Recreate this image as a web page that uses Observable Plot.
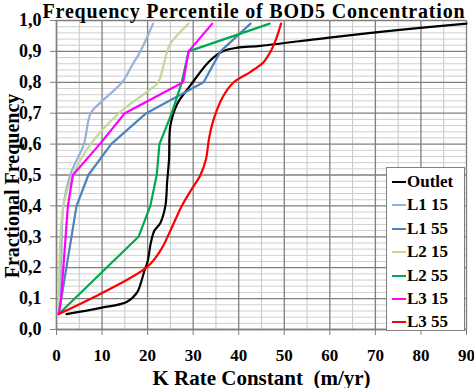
<!DOCTYPE html>
<html>
<head>
<meta charset="utf-8">
<script src="https://cdn.jsdelivr.net/npm/d3@7"></script>
<script src="https://cdn.jsdelivr.net/npm/@observablehq/plot@0.6"></script>
<style>
  html, body { margin: 0; padding: 0; background: #fff; }
  #wrap { position: relative; width: 474px; height: 388px; font-family: "Liberation Serif", "Times New Roman", serif; }
  #title { position: absolute; left: 0; top: 0px; width: 508px; text-align: center; font-weight: bold; font-size: 20px; line-height: normal; letter-spacing: 0.8px; white-space: nowrap; }
  #legend { position: absolute; left: 386px; top: 167px; width: 79px; height: 164px; box-sizing: border-box; border: 1px solid #7f7f7f; background: #fff; padding-top: 2px; }
  .item { height: 23.4px; line-height: 23.4px; font-weight: bold; font-size: 17px; white-space: nowrap; }
  .sw { display: inline-block; width: 14px; height: 2px; vertical-align: middle; margin-left: 5px; margin-right: 1px; position: relative; top: -1px; }
  svg text { white-space: pre; }
</style>
</head>
<body>
<div id="wrap">
  <div id="chart"></div>
  <div id="title"></div>
  <div id="legend"></div>
</div>
<script>
// ---- data ----
const titleText = "Frequency Percentile of BOD5 Concentration";
const xLabel = "K Rate Constant  (m/yr)";
const yLabel = "Fractional Frequency";
const kTicks = [0, 10, 20, 30, 40, 50, 60, 70, 80, 90];
const fracTicks = [0, 0.1, 0.2, 0.3, 0.4, 0.5, 0.6, 0.7, 0.8, 0.9, 1.0];
const fracLabels = ["0,0", "0,1", "0,2", "0,3", "0,4", "0,5", "0,6", "0,7", "0,8", "0,9", "1,0"];

const seriesNames = ["Outlet", "L1 15", "L1 55", "L2 15", "L2 55", "L3 15", "L3 55"];
const seriesColors = ["#000000", "#95b3d7", "#4f81bd", "#c4d79b", "#00a850", "#ff00ff", "#ff0000"];

const outletK = [2.2, 9.7, 15.5, 17.7, 18.5, 19.3, 20.0, 20.7, 21.5, 22.8, 23.9, 24.3, 24.7, 25.0, 26.5, 29.4, 33.4, 36.4, 39.7, 44.8, 59.4, 74.8, 90.0];
const outletF = [0.05, 0.07, 0.09, 0.12, 0.15, 0.19, 0.22, 0.28, 0.32, 0.345, 0.40, 0.48, 0.55, 0.66, 0.73, 0.79, 0.866, 0.90, 0.912, 0.918, 0.944, 0.969, 0.99];

const l115K = [0.5, 1.0, 1.5, 3.0, 6.0, 7.5, 9.7, 14.4, 16.6, 18.4, 21.2];
const l115F = [0.05, 0.2, 0.4, 0.5, 0.6, 0.7, 0.735, 0.8, 0.855, 0.9, 0.99];

const l155K = [0.5, 4.4, 7.0, 12.0, 19.7, 32.3, 36.0, 42.6];
const l155F = [0.05, 0.4, 0.5, 0.6, 0.7, 0.8, 0.9, 0.99];

const l215K = [0.5, 1.5, 3.6, 7.5, 13.7, 19.9, 22.3, 23.5, 24.3, 25.0, 29.0];
const l215F = [0.05, 0.4, 0.5, 0.6, 0.7, 0.77, 0.8, 0.855, 0.9, 0.925, 0.99];

const l255K = [0.5, 18.0, 20.6, 22.0, 22.6, 25.3, 27.5, 29.0, 46.8];
const l255F = [0.05, 0.3, 0.4, 0.5, 0.6, 0.7, 0.8, 0.9, 0.99];

const l315K = [0.5, 1.0, 1.5, 2.0, 2.5, 3.6, 9.5, 15.0, 27.8, 29.0, 34.2];
const l315F = [0.05, 0.1, 0.2, 0.3, 0.4, 0.5, 0.6, 0.7, 0.8, 0.9, 0.99];

const l355K = [0.5, 19.7, 23.0, 25.0, 27.5, 29.5, 31.6, 32.8, 33.5, 34.5, 36.4, 38.9, 42.6, 45.5, 47.0, 48.2, 49.3];
const l355F = [0.05, 0.2, 0.26, 0.32, 0.4, 0.45, 0.5, 0.55, 0.62, 0.68, 0.75, 0.8, 0.834, 0.866, 0.9, 0.94, 0.99];

// ---- build ----
const seriesK = [outletK, l115K, l155K, l215K, l255K, l315K, l355K];
const seriesF = [outletF, l115F, l155F, l215F, l255F, l315F, l355F];
const curves = ["catmull-rom", "catmull-rom", "linear", "catmull-rom", "linear", "linear", "catmull-rom"];

const fmt = d => fracLabels[fracTicks.findIndex(t => Math.abs(t - d) < 1e-9)];
const minorX = d3.range(5, 90, 10);
const minorY = d3.range(1, 50).filter(i => i % 5 !== 0).map(i => i / 50);

const lineMarks = seriesNames.map((name, i) =>
  Plot.line(seriesK[i].map((k, j) => ({k, f: seriesF[i][j]})), {
    x: "k", y: "f", stroke: seriesColors[i], strokeWidth: 2.2, curve: curves[i]
  })
);

const serif = "Liberation Serif, Times New Roman, serif";

const chart = Plot.plot({
  width: 474,
  height: 388,
  marginTop: 20,
  marginLeft: 56,
  marginRight: 8,
  marginBottom: 59,
  style: {fontFamily: serif, color: "#000", background: "#fff"},
  x: {domain: [0, 90]},
  y: {domain: [0, 1]},
  marks: [
    Plot.gridX(minorX, {stroke: "#c6c6c6", strokeOpacity: 1, strokeWidth: 1}),
    Plot.gridY(minorY, {stroke: "#cfcfcf", strokeOpacity: 1, strokeWidth: 1}),
    Plot.gridX(kTicks, {stroke: "#7f7f7f", strokeOpacity: 1, strokeWidth: 1.3}),
    Plot.gridY(fracTicks, {stroke: "#7f7f7f", strokeOpacity: 1, strokeWidth: 1.3}),
    Plot.ruleX([0], {stroke: "#7f7f7f", strokeWidth: 1.5}),
    Plot.ruleY([0], {stroke: "#7f7f7f", strokeWidth: 1.5}),
    Plot.axisX(kTicks, {
      fontSize: 17, fontWeight: "bold", fontFamily: serif,
      tickSize: 6, tickPadding: 13, stroke: "#7f7f7f",
      label: xLabel, labelAnchor: "center", labelArrow: "none", labelOffset: 55
    }),
    Plot.axisY(fracTicks, {
      fontSize: 18, fontWeight: "bold", fontFamily: serif,
      tickSize: 6, tickPadding: 9, stroke: "#7f7f7f", tickFormat: fmt,
      label: yLabel, labelAnchor: "center", labelArrow: "none", labelOffset: 52
    }),
    ...lineMarks
  ]
});
document.getElementById("chart").appendChild(chart);

// fonts for axis labels
const xl = chart.querySelector("g[aria-label='x-axis label']");
if (xl) xl.querySelectorAll("text").forEach(t => { t.setAttribute("font-size", "21"); t.setAttribute("font-weight", "bold"); });
const yl = chart.querySelector("g[aria-label='y-axis label']");
if (yl) {
  yl.querySelectorAll("text").forEach(t => { t.setAttribute("font-size", "20"); t.setAttribute("font-weight", "bold"); });
  yl.setAttribute("transform", (yl.getAttribute("transform") || "") + " translate(0,11)");
}

document.getElementById("title").textContent = titleText;

const legend = document.getElementById("legend");
seriesNames.forEach((name, i) => {
  const item = document.createElement("div");
  item.className = "item";
  const sw = document.createElement("span");
  sw.className = "sw";
  sw.style.background = seriesColors[i];
  item.appendChild(sw);
  item.appendChild(document.createTextNode(name));
  legend.appendChild(item);
});
</script>
</body>
</html>
